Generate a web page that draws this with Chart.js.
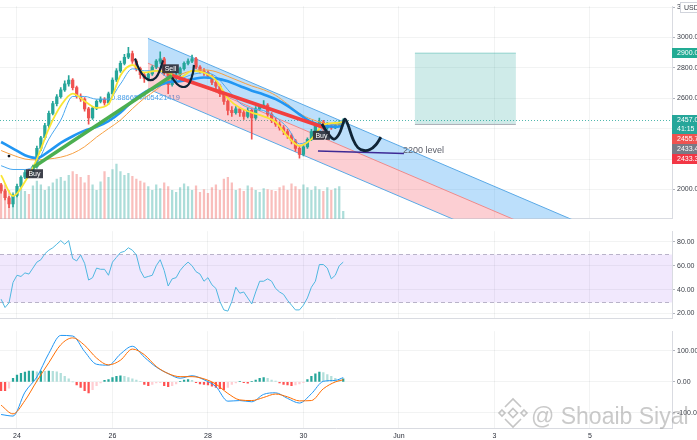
<!DOCTYPE html>
<html>
<head>
<meta charset="utf-8">
<script src="https://cdn.jsdelivr.net/npm/chart.js@4.4.1/dist/chart.umd.min.js"></script>
<style>
  html, body { margin: 0; padding: 0; background: #fff; }
  #wrap { position: relative; width: 697px; height: 440px; overflow: hidden; background: #fff; }
  canvas { position: absolute; left: 0; }
</style>
</head>
<body>
<div id="wrap">
  <canvas id="mainChart" width="697" height="225" style="top:0"></canvas>
  <canvas id="rsiChart" width="697" height="100" style="top:225px"></canvas>
  <canvas id="macdChart" width="697" height="115" style="top:325px"></canvas>
</div>
<script>
// time axis (day of May, Jun 1 = 32), 2h candles
const firstCandleDay = 23 + 16 / 24;
const candleHours = 2;
const dayMin = 23.644;
const dayMax = 37.72;

const tickDays = [24, 26, 28, 30, 32, 34, 36];
const tickLabels = ['24', '26', '28', '30', 'Jun', '3', '5'];
const priceTicks = [2000, 2200, 2400, 2600, 2800, 3000, 3200];
const rsiTicks = [20, 40, 60, 80];
const macdTicks = [-100, 0, 100];

const opens = [2030,1990,1945,1905,1960,2020,2080,2110,2095,2150,
  2270,2340,2420,2500,2565,2610,2655,2695,2720,2670,
  2615,2595,2530,2470,2535,2580,2595,2570,2630,2720,
  2780,2830,2870,2895,2845,2795,2755,2730,2760,2805,
  2845,2860,2770,2690,2735,2755,2795,2830,2845,2860,
  2805,2780,2770,2745,2705,2680,2630,2580,2520,2505,
  2530,2505,2480,2520,2470,2530,2545,2555,2495,2455,
  2430,2405,2380,2355,2320,2270,2230,2280,2330,2380,
  2420,2445,2405,2420,2405,2425,2435];
const closes = [1990,1945,1905,1960,2020,2080,2110,2095,2150,2270,
  2340,2420,2500,2565,2610,2655,2695,2720,2670,2615,
  2595,2530,2470,2535,2580,2595,2570,2630,2720,2780,
  2830,2870,2895,2845,2795,2755,2730,2760,2805,2845,
  2860,2770,2690,2735,2755,2795,2830,2845,2860,2805,
  2780,2770,2745,2705,2680,2630,2580,2520,2505,2530,
  2505,2480,2520,2470,2530,2545,2555,2495,2455,2430,
  2405,2380,2355,2320,2270,2230,2280,2330,2380,2420,
  2445,2405,2420,2405,2425,2435,2457];
const highs = [2040,2000,1955,1970,2035,2090,2125,2130,2160,2285,
  2350,2435,2515,2580,2625,2670,2715,2750,2730,2680,
  2630,2605,2540,2545,2590,2610,2605,2640,2735,2795,
  2845,2890,2935,2910,2855,2805,2770,2770,2815,2855,
  2905,2870,2780,2745,2770,2805,2840,2860,2885,2870,
  2815,2795,2780,2755,2720,2690,2640,2590,2545,2545,
  2540,2520,2535,2530,2545,2560,2585,2565,2505,2470,
  2445,2420,2395,2365,2330,2285,2290,2340,2395,2440,
  2470,2455,2440,2435,2445,2455,2465];
const lows = [1975,1930,1880,1885,1950,2010,2070,2080,2085,2140,
  2255,2330,2405,2490,2550,2600,2645,2680,2655,2600,
  2580,2515,2430,2460,2525,2570,2555,2560,2620,2710,
  2770,2820,2860,2830,2780,2730,2705,2715,2750,2795,
  2830,2750,2630,2680,2720,2745,2785,2820,2835,2795,
  2765,2750,2730,2690,2660,2610,2560,2490,2480,2495,
  2480,2460,2470,2330,2460,2520,2535,2480,2440,2415,
  2390,2360,2335,2300,2250,2205,2220,2270,2320,2370,
  2410,2390,2395,2395,2400,2420,2430];
const volumes = [340,360,300,280,310,330,290,260,350,400,
  360,300,340,380,420,440,400,460,500,470,
  440,380,460,360,300,390,500,440,520,580,
  500,460,480,450,420,400,380,340,300,360,
  320,380,340,300,280,330,370,340,300,350,
  280,310,270,330,360,300,420,440,380,300,
  320,290,350,330,300,280,320,310,300,290,
  330,350,300,370,340,310,360,330,300,340,
  310,290,330,300,320,340,80];

const rsiValues = [32,25,29,46,52,51,54,53,58,63,
  65,70,73,75,78,81,78,81,66,64,
  69,62,48,50,58,57,57,52,63,67,
  71,72,75,73,69,56,50,51,52,60,
  65,56,43,49,50,56,60,63,60,55,
  53,47,50,44,41,30,23,22,30,42,
  37,38,33,28,38,47,47,49,47,41,
  38,36,31,27,23,23,27,33,42,47,
  61,61,58,49,52,60,63];

const macdHist = [-28,-28,-20,12,22,28,32,35,35,33,
  35,34,35,34,33,28,18,10,0,-10,
  -18,-28,-35,-25,-12,-3,5,8,14,18,
  20,18,14,10,6,2,-8,-12,-8,-3,
  -2,-12,-15,-12,-6,2,6,8,5,-2,
  -6,-8,-10,-14,-18,-22,-25,-18,-8,-3,
  2,-2,-4,2,6,12,14,12,6,3,
  -3,-8,-10,-12,-10,-6,-2,8,18,26,
  32,30,24,18,12,8,10];

// candle indices where the smooth indicator lines were read
const lineIdx = [0,3,6,9,12,15,18,21,24,27,30,33,36,39,42,45,48,51,54,57,60,63,66,69,72,75,78,81,84,86];
const yellowEma = [2094,1956,2050,2200,2400,2550,2631,2581,2537,2562,2750,2819,2769,2781,2769,2737,2781,2769,2719,2600,2537,2506,2481,2444,2350,2287,2331,2425,2437,2444];
const fastBlue = [2156,2131,2131,2175,2331,2456,2612,2612,2594,2594,2694,2794,2781,2781,2737,2731,2756,2769,2744,2656,2569,2531,2519,2475,2406,2300,2331,2406,2431,2437];
const slowBlue = [2312,2269,2225,2206,2250,2306,2350,2387,2412,2450,2506,2581,2637,2675,2706,2712,2725,2737,2731,2712,2681,2650,2625,2594,2550,2494,2444,2419,2412,2419];
const orangeEma = [2256,2225,2200,2194,2200,2212,2237,2281,2344,2400,2456,2531,2600,2656,2719,2756,2781,2787,2775,2744,2712,2681,2656,2619,2562,2500,2462,2437,2425,2425];
const macdLine = [-105,-110,-33,16,92,150,148,98,57,54,90,115,80,48,27,12,20,7,-15,-62,-60,-64,-40,-35,-53,-68,-38,2,5,14];
const signalLine = [-75,-103,-60,3,62,120,142,118,77,55,70,106,88,50,27,17,17,10,-7,-37,-58,-60,-50,-39,-48,-61,-60,-22,0,7];

// drawings (day, price)
const channelDays = [26.743, 37.72];
const channelUpper = [2994, 1520];
const channelMid = [2831, 1357];
const channelLower = [2662, 1188];
const greenTrendDays = [24.335, 27.246];
const greenTrendPrices = [2144, 2750];
const redTrendDays = [27.246, 30.45];
const redTrendPrices = [2750, 2406];
const levelDays = [30.304, 32.105];
const levelPrices = [2253, 2237];
const cupADays = [26.471, 26.555, 26.660, 26.785, 26.911, 26.995, 27.058];
const cupAPrices = [2862, 2794, 2744, 2719, 2737, 2787, 2850];
const cupBDays = [27.246, 27.351, 27.455, 27.560, 27.623, 27.686, 27.707];
const cupBPrices = [2737, 2694, 2675, 2681, 2706, 2769, 2819];
const pathDays = [30.387, 30.513, 30.639, 30.743, 30.827, 30.869, 30.932, 31.037, 31.141, 31.267, 31.393, 31.518, 31.623];
const pathPrices = [2431, 2369, 2331, 2362, 2431, 2462, 2425, 2331, 2275, 2256, 2262, 2294, 2344];
const targetDays = [32.335, 34.45];
const targetPrices = [2900, 2431];
const lastPrice = 2457;
const signalTexts = ['Buy', 'Sell', 'Buy'];
const signalDays = [24.366, 27.215, 30.377];
const signalPrices = [2103, 2794, 2356];
const fibText = '0.886654405421419';
const fibDay = 25.969, fibPrice = 2600;
const levelText = '2200 level';
const levelTextDay = 32.084, levelTextPrice = 2256;
const dotDay = 23.832, dotPrice = 2219;
const badgeValues = [2900, 2457, 2455.7, 2433.4, 2433.3];
const badgeTexts = [['2900.0'], ['2457.0', '41:15'], ['2455.7'], ['2433.4'], ['2433.3']];
const badgeColors = ['#22ab94', '#26a69a', '#ef5350', '#787b86', '#f23645'];
const watermark = '@ Shoaib Siyal';

const FONT = '"Liberation Sans", Arial, sans-serif';
const gridColor = 'rgba(42,46,57,0.06)';
const sepColor = '#d9dbe1';
const upColor = '#26a69a';
const downColor = '#ef5350';

const candleDay = i => firstCandleDay + i * candleHours / 24;
const isUp = i => closes[i] >= opens[i];
const xy = (days, vals) => days.map((d, k) => ({ x: d, y: vals[k] }));
const candleXY = vals => vals.map((v, i) => ({ x: candleDay(i), y: v }));
const lineXY = vals => vals.map((v, k) => ({ x: candleDay(lineIdx[k]), y: v }));

function timeAxis(showLabels) {
    return {
        type: 'linear', min: dayMin, max: dayMax, offset: false,
        afterBuildTicks: s => { s.ticks = tickDays.map(v => ({ value: v })); },
        afterFit: s => { s.height = showLabels ? 12 : 0; },
        ticks: {
            display: showLabels, autoSkip: false, maxRotation: 0, padding: 4,
            font: { family: FONT, size: 7 }, color: '#2a2e39',
            callback: v => tickLabels[tickDays.indexOf(v)]
        },
        grid: { color: gridColor, drawTicks: false, offset: false },
        border: { color: sepColor }
    };
}

function valueAxis(min, max, ticks, fmt) {
    return {
        position: 'right', min, max,
        afterBuildTicks: s => { s.ticks = ticks.map(v => ({ value: v })); },
        afterFit: s => { s.width = 25; },
        ticks: { autoSkip: false, padding: 2, font: { family: FONT, size: 7 }, color: '#3a3e47', callback: fmt },
        grid: { color: gridColor, tickColor: '#b2b5be', tickLength: 3 },
        border: { color: sepColor }
    };
}

const baseOptions = {
    responsive: false,
    animation: false,
    events: [],
    layout: { autoPadding: false, padding: { left: 0, right: 0, top: 0, bottom: 1 } },
    plugins: { legend: { display: false }, tooltip: { enabled: false } }
};

function line(data, color, width, order, extra) {
    return Object.assign({
        type: 'line', data, borderColor: color, borderWidth: width, pointRadius: 0,
        fill: false, order, cubicInterpolationMode: 'monotone'
    }, extra || {});
}

// ---------- main price panel ----------
const mainDecor = {
    id: 'mainDecor',
    beforeDatasetsDraw(chart) {
        const { ctx, chartArea: a, scales: { x, y } } = chart;
        ctx.save();
        const bx1 = x.getPixelForValue(targetDays[0]), bx2 = x.getPixelForValue(targetDays[1]);
        const by1 = y.getPixelForValue(targetPrices[0]), by2 = y.getPixelForValue(targetPrices[1]);
        ctx.fillStyle = 'rgba(38,166,154,0.22)';
        ctx.fillRect(bx1, by1, bx2 - bx1, by2 - by1);
        ctx.lineWidth = 1;
        ctx.strokeStyle = 'rgba(38,166,154,0.35)';
        ctx.beginPath(); ctx.moveTo(bx1, by1 + 0.5); ctx.lineTo(bx2, by1 + 0.5); ctx.stroke();
        ctx.strokeStyle = '#a9acb4';
        ctx.beginPath(); ctx.moveTo(bx1, by2 + 0.5); ctx.lineTo(bx2, by2 + 0.5); ctx.stroke();

        const py = Math.round(y.getPixelForValue(lastPrice)) + 0.5;
        ctx.setLineDash([1, 2]);
        ctx.strokeStyle = 'rgba(38,166,154,0.8)';
        ctx.beginPath(); ctx.moveTo(a.left, py); ctx.lineTo(a.right, py); ctx.stroke();
        ctx.setLineDash([]);

        ctx.font = '7.5px ' + FONT;
        ctx.fillStyle = '#4a9fe8';
        ctx.textBaseline = 'middle';
        ctx.fillText(fibText, x.getPixelForValue(fibDay), y.getPixelForValue(fibPrice));
        ctx.restore();
    },
    afterDatasetsDraw(chart) {
        const { ctx, scales: { x, y } } = chart;
        ctx.save();
        ctx.font = '7px ' + FONT;
        ctx.textAlign = 'center';
        ctx.textBaseline = 'middle';
        signalTexts.forEach((t, k) => {
            const cx = x.getPixelForValue(signalDays[k]), cy = y.getPixelForValue(signalPrices[k]);
            const w = ctx.measureText(t).width + 5;
            ctx.fillStyle = 'rgba(42,46,57,0.9)';
            ctx.fillRect(cx - w / 2, cy - 4.5, w, 9);
            ctx.fillStyle = '#ffffff';
            ctx.fillText(t, cx, cy + 0.5);
        });
        ctx.fillStyle = '#131722';
        ctx.beginPath();
        ctx.arc(x.getPixelForValue(dotDay), y.getPixelForValue(dotPrice), 1.4, 0, Math.PI * 2);
        ctx.fill();
        ctx.font = '9px ' + FONT;
        ctx.textAlign = 'left';
        ctx.fillStyle = '#5d606b';
        ctx.fillText(levelText, x.getPixelForValue(levelTextDay), y.getPixelForValue(levelTextPrice));
        ctx.restore();
    },
    afterDraw(chart) {
        const { ctx, chartArea: a, scales: { y } } = chart;
        ctx.save();
        ctx.font = '7px ' + FONT;
        ctx.textBaseline = 'middle';
        ctx.textAlign = 'left';
        let prevBottom = -Infinity;
        badgeValues.forEach((v, k) => {
            const lines = badgeTexts[k];
            const top = Math.max(Math.round(y.getPixelForValue(v)) - 5, prevBottom);
            const h = 1 + lines.length * 9;
            ctx.fillStyle = badgeColors[k];
            ctx.fillRect(a.right, top, chart.width - a.right, h);
            ctx.fillStyle = '#ffffff';
            lines.forEach((t, j) => ctx.fillText(t, a.right + 5, top + 5 + j * 9));
            prevBottom = top + h;
        });
        ctx.fillStyle = '#ffffff';
        ctx.fillRect(a.right + 9, 3, 19, 9);
        ctx.strokeStyle = '#d1d4dc';
        ctx.strokeRect(a.right + 8.5, 2.5, 20, 10);
        ctx.fillStyle = '#3a3e47';
        ctx.fillText('USD', a.right + 12, 8);
        ctx.restore();
    }
};

new Chart(document.getElementById('mainChart'), {
    type: 'line',
    data: {
        datasets: [
            {
                type: 'bar', yAxisID: 'yv', order: 20, grouped: false, barThickness: 1.6,
                data: candleXY(volumes),
                backgroundColor: c => isUp(c.dataIndex) ? 'rgba(38,166,154,0.38)' : 'rgba(239,83,80,0.38)'
            },
            line(xy(channelDays, channelUpper), '#5aa9e6', 1, 15, { fill: '+1', backgroundColor: 'rgba(33,150,243,0.3)', cubicInterpolationMode: 'default' }),
            line(xy(channelDays, channelMid), '#ef8a8a', 1, 14, { fill: '+1', backgroundColor: 'rgba(242,54,69,0.24)', cubicInterpolationMode: 'default' }),
            line(xy(channelDays, channelLower), '#5aa9e6', 1, 13, { cubicInterpolationMode: 'default' }),
            {
                type: 'bar', order: 8, grouped: false, barThickness: 1,
                data: lows.map((l, i) => ({ x: candleDay(i), y: [l, highs[i]] })),
                backgroundColor: c => isUp(c.dataIndex) ? upColor : downColor
            },
            {
                type: 'bar', order: 7, grouped: false, barThickness: 2.6,
                data: opens.map((o, i) => ({ x: candleDay(i), y: [o, closes[i]] })),
                backgroundColor: c => isUp(c.dataIndex) ? upColor : downColor
            },
            line(lineXY(orangeEma), '#f7a043', 1, 6),
            line(lineXY(fastBlue), '#4aa8f0', 1, 5),
            line(lineXY(slowBlue), '#2196f3', 2.6, 4),
            line(lineXY(yellowEma), '#f9e534', 1.8, 3),
            line(xy(greenTrendDays, greenTrendPrices), '#4caf50', 3.5, 2, { cubicInterpolationMode: 'default' }),
            line(xy(redTrendDays, redTrendPrices), '#f23f3f', 3.5, 2, { cubicInterpolationMode: 'default' }),
            line(xy(levelDays, levelPrices), '#3d2a95', 1.5, 2, { cubicInterpolationMode: 'default' }),
            line(xy(cupADays, cupAPrices), '#0f2436', 2.2, 1, { cubicInterpolationMode: 'default', tension: 0.4 }),
            line(xy(cupBDays, cupBPrices), '#0f2436', 2.2, 1, { cubicInterpolationMode: 'default', tension: 0.4 }),
            line(xy(pathDays, pathPrices), '#0f2436', 2.8, 1, { cubicInterpolationMode: 'default', tension: 0.4 })
        ]
    },
    options: Object.assign({}, baseOptions, {
        scales: {
            x: timeAxis(false),
            y: valueAxis(1806.25, 3206.25, priceTicks, v => v.toFixed(2)),
            yv: { display: false, min: 0, max: 2250 }
        }
    }),
    plugins: [mainDecor]
});

// ---------- RSI panel ----------
const rsiBand = {
    id: 'rsiBand',
    beforeDatasetsDraw(chart) {
        const { ctx, chartArea: a, scales: { y } } = chart;
        const y70 = Math.round(y.getPixelForValue(70)) + 0.5, y30 = Math.round(y.getPixelForValue(30)) + 0.5;
        ctx.save();
        ctx.fillStyle = 'rgba(149,76,240,0.13)';
        ctx.fillRect(a.left, y70, a.right - a.left, y30 - y70);
        ctx.strokeStyle = '#b9b3c9';
        ctx.setLineDash([4, 3]);
        ctx.lineWidth = 1;
        [y70, y30].forEach(py => { ctx.beginPath(); ctx.moveTo(a.left, py); ctx.lineTo(a.right, py); ctx.stroke(); });
        ctx.restore();
    }
};

new Chart(document.getElementById('rsiChart'), {
    type: 'line',
    data: { datasets: [line(candleXY(rsiValues), '#4fb7e0', 1, 1, { cubicInterpolationMode: 'default' })] },
    options: Object.assign({}, baseOptions, {
        scales: {
            x: timeAxis(false),
            y: valueAxis(15.56, 88.89, rsiTicks, v => v.toFixed(2))
        }
    }),
    plugins: [rsiBand]
});

// ---------- MACD panel ----------
const histColor = c => {
    const i = c.dataIndex, v = macdHist[i], prev = i > 0 ? macdHist[i - 1] : v;
    if (v >= 0) return v >= prev ? '#26a69a' : '#b2dfdb';
    return v <= prev ? '#ff5252' : '#ffcdd2';
};

const watermarkPlugin = {
    id: 'watermark',
    afterDraw(chart) {
        const { ctx } = chart;
        ctx.save();
        ctx.font = '23px ' + FONT;
        ctx.textBaseline = 'alphabetic';
        ctx.fillStyle = 'rgba(150,150,150,0.5)';
        ctx.fillText(watermark, 531, 99);
        ctx.strokeStyle = 'rgba(150,150,150,0.55)';
        ctx.lineWidth = 1.6;
        const diamond = (cx, cy, r) => {
            ctx.beginPath();
            ctx.moveTo(cx, cy - r); ctx.lineTo(cx + r, cy); ctx.lineTo(cx, cy + r); ctx.lineTo(cx - r, cy); ctx.closePath();
            ctx.stroke();
        };
        diamond(513, 88, 4.5);
        diamond(502, 88, 3);
        diamond(524, 88, 3);
        ctx.beginPath(); ctx.moveTo(505, 82); ctx.lineTo(513, 74); ctx.lineTo(521, 82); ctx.stroke();
        ctx.beginPath(); ctx.moveTo(505, 94); ctx.lineTo(513, 102); ctx.lineTo(521, 94); ctx.stroke();
        ctx.restore();
    }
};

new Chart(document.getElementById('macdChart'), {
    type: 'line',
    data: {
        datasets: [
            { type: 'bar', order: 3, grouped: false, barThickness: 1.6, data: candleXY(macdHist), backgroundColor: histColor },
            line(lineXY(macdLine), '#2196f3', 1, 2),
            line(lineXY(signalLine), '#ff6d00', 1, 1)
        ]
    },
    options: Object.assign({}, baseOptions, {
        layout: { autoPadding: false, padding: 0 },
        scales: {
            x: timeAxis(true),
            y: valueAxis(-148.5, 163.6, macdTicks, v => v.toFixed(2))
        }
    }),
    plugins: [watermarkPlugin]
});
</script>
</body>
</html>
